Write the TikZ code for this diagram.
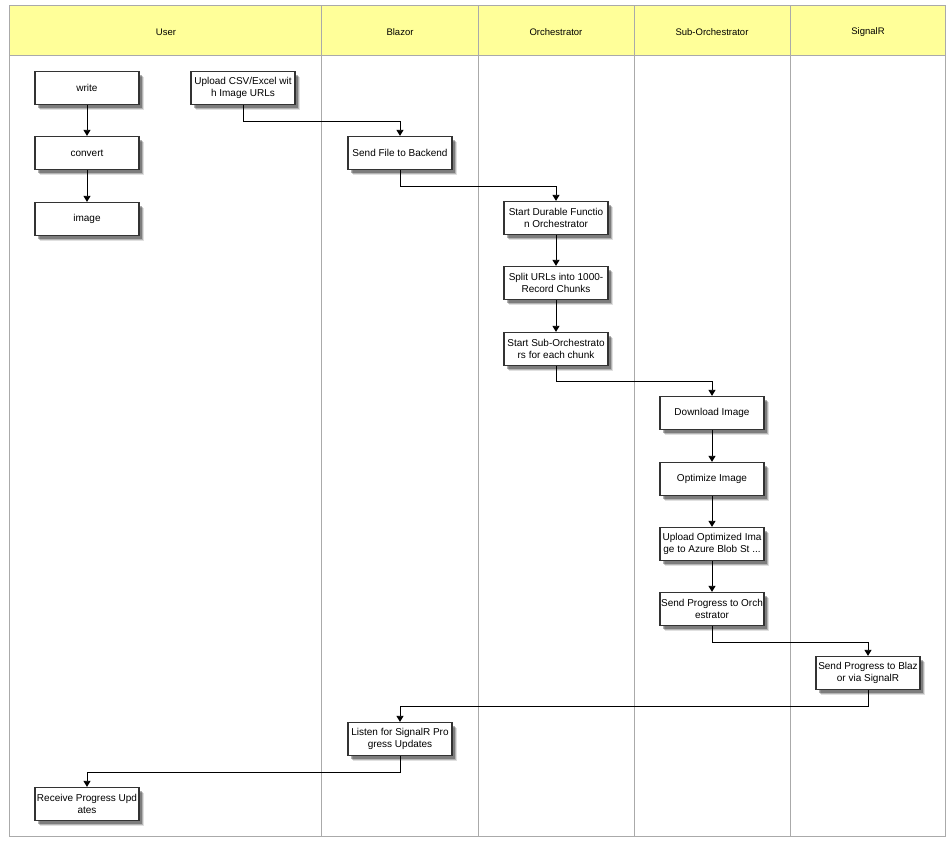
\documentclass[tikz,border=0pt]{standalone}
\usepackage{fontspec}
\setmainfont{Liberation Sans}
\usetikzlibrary{shadows,arrows.meta}
\definecolor{hdr}{RGB}{255,255,153}
\definecolor{lane}{RGB}{170,170,170}
\begin{document}
\begin{tikzpicture}[x=1pt,y=-1pt,
  box/.style={draw=black!80, line width=1.3pt, fill=white, minimum width=104pt, minimum height=33pt,
    inner sep=0pt, align=center, font=\fontsize{10}{12.5}\selectfont,
    drop shadow={shadow xshift=5pt, shadow yshift=-5pt, opacity=0.12, fill=black},
    drop shadow={shadow xshift=4pt, shadow yshift=-4pt, opacity=0.2, fill=black},
    drop shadow={shadow xshift=3pt, shadow yshift=-3pt, opacity=0.3, fill=black}},
  hdrlabel/.style={font=\fontsize{9.5}{11}\selectfont, inner sep=0pt},
  conn/.style={draw=black, line width=0.8pt, -{Triangle[width=7pt,length=6pt]}},
  lanebox/.style={draw=lane, line width=1pt}]
\useasboundingbox (0,0) rectangle (951,846);
% lanes
\fill[hdr] (9,5) rectangle (945,55);
\draw[lanebox] (9,5) rectangle (945,836);
\draw[lanebox] (9,55) -- (945,55);
\foreach \x in {321,478,634,790} \draw[lanebox] (\x,5) -- (\x,836);
\node[hdrlabel] (hUser) at (166,32) {User};
\node[hdrlabel] (hBlazor) at (400,32) {Blazor};
\node[hdrlabel] (hOrch) at (556,32) {Orchestrator};
\node[hdrlabel] (hSub) at (712,32) {Sub-Orchestrator};
\node[hdrlabel] (hSig) at (868,32) {SignalR};
% nodes
\node[box] (write) at (87,88) {write};
\node[box] (convert) at (87,153) {convert};
\node[box] (image) at (87,219) {image};
\node[box] (upload) at (243,88) {Upload CSV/Excel wit\\h Image URLs};
\node[box] (sendfile) at (400,153) {Send File to Backend};
\node[box] (durable) at (556,218) {Start Durable Functio\\n Orchestrator};
\node[box] (split) at (556,283) {Split URLs into 1000-\\Record Chunks};
\node[box] (startsub) at (556,349) {Start Sub-Orchestrato\\rs for each chunk};
\node[box] (download) at (712,413) {Download Image};
\node[box] (optimize) at (712,479) {Optimize Image};
\node[box] (uploadopt) at (712,544) {Upload Optimized Ima\\ge to Azure Blob St ...};
\node[box] (progorch) at (712,609) {Send Progress to Orch\\estrator};
\node[box] (progblazor) at (868,673) {Send Progress to Blaz\\or via SignalR};
\node[box] (listen) at (400,739) {Listen for SignalR Pro\\gress Updates};
\node[box] (receive) at (87,804) {Receive Progress Upd\\ates};
% connectors
\draw[conn] (write) -- (convert);
\draw[conn] (convert) -- (image);
\draw[conn] (upload.south) -- ++(0,16) -| (sendfile.north);
\draw[conn] (sendfile.south) -- ++(0,16) -| (durable.north);
\draw[conn] (durable) -- (split);
\draw[conn] (split) -- (startsub);
\draw[conn] (startsub.south) -- ++(0,15) -| (download.north);
\draw[conn] (download) -- (optimize);
\draw[conn] (optimize) -- (uploadopt);
\draw[conn] (uploadopt) -- (progorch);
\draw[conn] (progorch.south) -- ++(0,16) -| (progblazor.north);
\draw[conn] (progblazor.south) -- ++(0,16) -| (listen.north);
\draw[conn] (listen.south) -- ++(0,16) -| (receive.north);
\end{tikzpicture}
\end{document}
